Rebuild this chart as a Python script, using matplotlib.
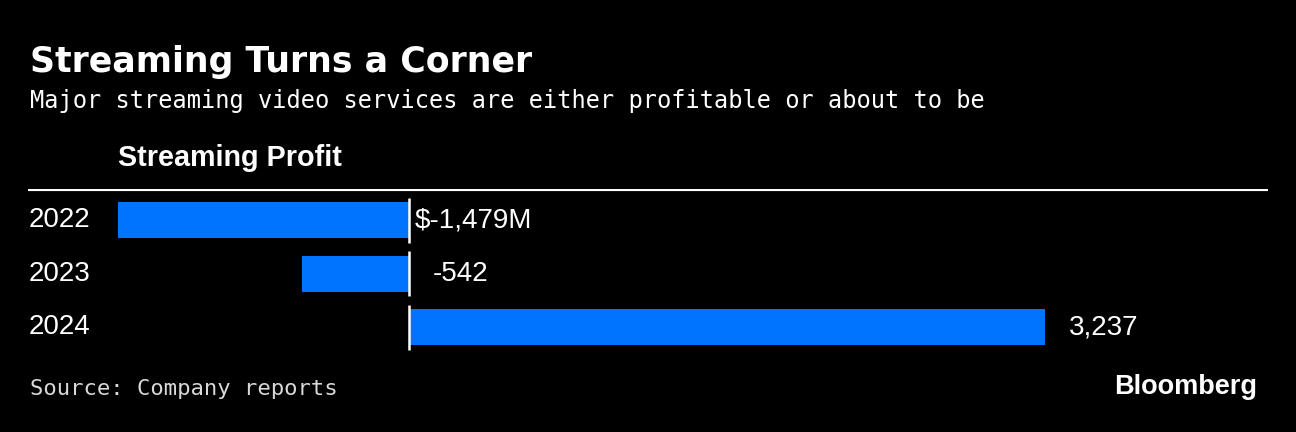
import matplotlib.pyplot as plt

years = ["2022", "2023", "2024"]
profit = [-1479, -542, 3237]
labels = ["$-1,479M", "-542", "3,237"]

BG = "black"
BLUE = "#0073ff"

W, H = 1296, 432
fig = plt.figure(figsize=(W / 100, H / 100), dpi=100, facecolor=BG)

# axes spans the white rule under the header
left_px, right_px = 28, 1268
top_px, bot_px = 189, 355
ax = fig.add_axes([left_px / W, 1 - bot_px / H, (right_px - left_px) / W, (bot_px - top_px) / H])
ax.set_facecolor(BG)

zero_px = 409
px_per_unit = 0.1965
ax.set_xlim((left_px - zero_px) / px_per_unit, (right_px - zero_px) / px_per_unit)
ax.set_ylim(2.52, -0.58)

ypos = range(len(years))
ax.barh(ypos, profit, height=0.67, color=BLUE)

# zero line, drawn per bar
for y in ypos:
    ax.plot([0, 0], [y - 0.42, y + 0.42], color="white", lw=1.8, solid_capstyle="butt")

label_font = dict(family="Liberation Sans", fontsize=20, color="white")
for y, v, lab in zip(ypos, profit, labels):
    if v < 0:
        off = 6 if lab.startswith("$") else 24
        ax.annotate(lab, (0, y), xytext=(off * 0.72, 0), textcoords="offset points",
                    ha="left", va="center", **label_font)
    else:
        ax.annotate(lab, (v, y), xytext=(24 * 0.72, 0), textcoords="offset points",
                    ha="left", va="center", **label_font)

# year labels on the left
for y, yr in zip(ypos, years):
    ax.annotate(yr, (0, y), xycoords=("axes fraction", "data"), xytext=(1 * 0.72, 0),
                textcoords="offset points", ha="left", va="center", **label_font)

ax.axhline(-0.58, color="white", lw=3)
for s in ax.spines.values():
    s.set_visible(False)
ax.set_xticks([])
ax.set_yticks([])

fig.text(30 / W, 1 - 62 / H, "Streaming Turns a Corner", family="DejaVu Sans",
         weight="bold", fontsize=25, color="white", va="center")
fig.text(30 / W, 1 - 101 / H, "Major streaming video services are either profitable or about to be",
         family="DejaVu Sans Mono", fontsize=17, color="white", va="center")
fig.text(118 / W, 1 - 158 / H, "Streaming Profit", family="Liberation Sans",
         weight="bold", fontsize=20.7, color="white", va="center")
fig.text(30 / W, 1 - 389 / H, "Source: Company reports", family="DejaVu Sans Mono",
         fontsize=16, color="#d9d9d9", va="center")
fig.text(1257 / W, 1 - 387 / H, "Bloomberg", family="Liberation Sans",
         weight="bold", fontsize=19.5, color="white", va="center", ha="right")

fig.savefig("out.png", dpi=100, facecolor=BG)
